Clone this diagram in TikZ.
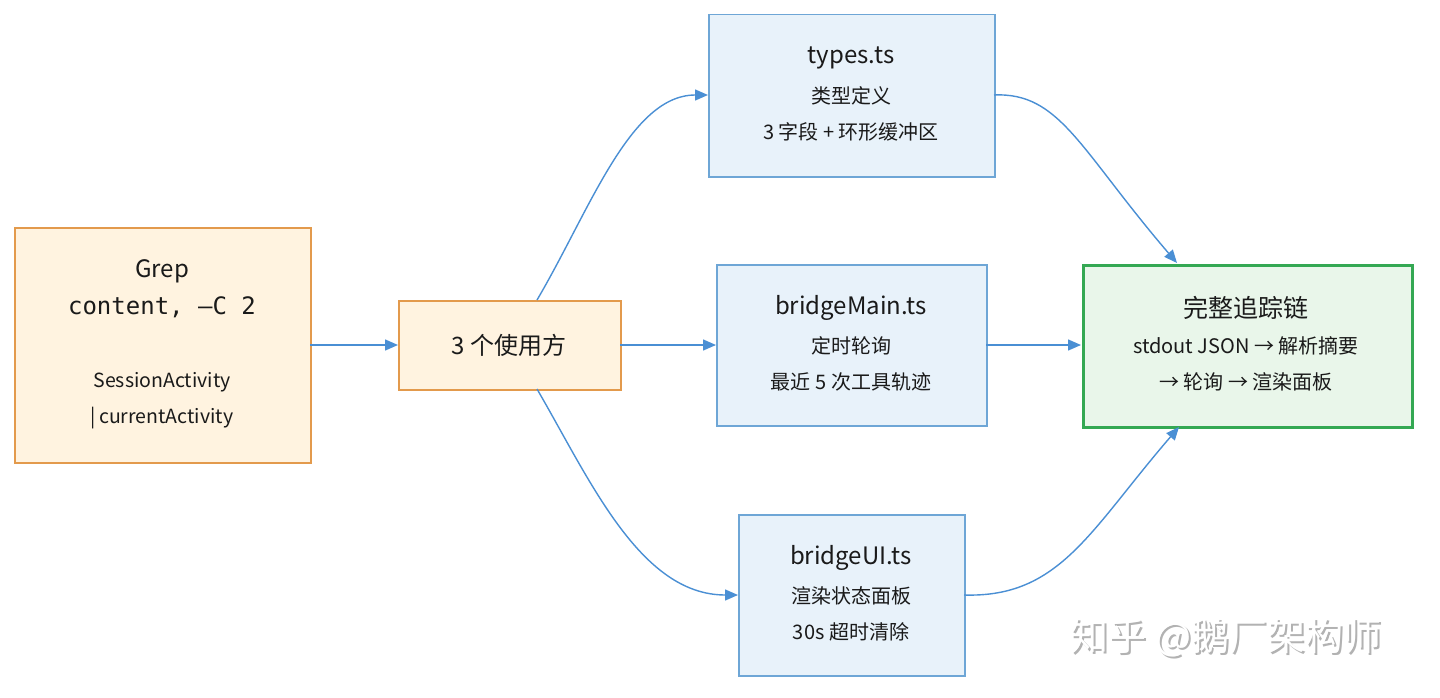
\documentclass[tikz,border=0pt]{standalone}
\usepackage{fontspec}
\setmainfont{Noto Sans CJK SC}
\newfontfamily\monof{DejaVu Sans Mono}
\usetikzlibrary{arrows.meta}
\definecolor{obg}{HTML}{FFF3E0}
\definecolor{obd}{HTML}{E39A4C}
\definecolor{bbg}{HTML}{E8F2FA}
\definecolor{bbd}{HTML}{6EA6D6}
\definecolor{gbg}{HTML}{E9F6EA}
\definecolor{gbd}{HTML}{34A853}
\definecolor{arr}{HTML}{4A8FD4}
\definecolor{txt}{HTML}{1A1A1A}
\tikzset{
  box/.style={draw, line width=1.5pt, inner sep=0pt, anchor=north west},
  obox/.style={box, fill=obg, draw=obd},
  bbox/.style={box, fill=bbg, draw=bbd},
  gbox/.style={box, fill=gbg, draw=gbd, line width=2.8pt},
  conn/.style={draw=arr, line width=1.4pt, -{Triangle[length=13pt,width=11pt]}},
  ttl/.style={text=txt, font=\fontsize{24}{28}\selectfont, inner sep=0pt},
  sub/.style={text=txt, font=\fontsize{20}{24}\selectfont, inner sep=0pt},
}
\begin{document}
\begin{tikzpicture}[x=1pt,y=-1pt]
\useasboundingbox[fill=white] (0,0) rectangle (1440,698);
% boxes
\node[obox, minimum width=296pt, minimum height=235pt] (grep) at (14,227) {};
\node[obox, minimum width=222pt, minimum height=89pt] (use) at (398,300) {};
\node[bbox, minimum width=286pt, minimum height=162pt] (types) at (708,14) {};
\node[bbox, minimum width=270pt, minimum height=161pt] (main) at (716,264) {};
\node[bbox, minimum width=226pt, minimum height=161pt] (ui) at (738,514) {};
\node[gbox, minimum width=329pt, minimum height=162pt] (chain) at (1082,264) {};
% texts
\node[ttl] (t1) at (162,271) {Grep};
\node[text=txt, inner sep=0pt, font=\monof\fontsize{24}{28}\selectfont] (t2) at (162,307) {content, –C 2};
\node[sub, font=\fontsize{19.5}{24}\selectfont] (t3) at (162,382) {SessionActivity};
\node[sub, font=\fontsize{19.5}{24}\selectfont] (t4) at (162,418) {|\,currentActivity};
\node[ttl] (u1) at (509,345) {3 个使用方};
\node[ttl] (a1) at (851,58) {types.ts};
\node[sub] (a2) at (851,96) {类型定义};
\node[sub] (a3) at (851,132) {3 字段 + 环形缓冲区};
\node[ttl] (b1) at (851,308) {bridgeMain.ts};
\node[sub] (b2) at (851,346) {定时轮询};
\node[sub] (b3) at (851,382) {最近 5 次工具轨迹};
\node[ttl] (c1) at (851,558) {bridgeUI.ts};
\node[sub] (c2) at (851,596) {渲染状态面板};
\node[sub] (c3) at (851,632) {30s 超时清除};
\node[ttl, font=\fontsize{25}{28}\selectfont] (g1) at (1246,308) {完整追踪链};
\node[sub] (g2) at (1246,346) {stdout JSON → 解析摘要};
\node[sub] (g3) at (1246,382) {→ 轮询 → 渲染面板};
% connectors
\coordinate (grepR) at (310,345);
\coordinate (useL) at (398,345);
\coordinate (useT) at (537,300);
\coordinate (useB) at (537,389);
\coordinate (useR) at (620,345);
\coordinate (typesL) at (708,95);
\coordinate (typesR) at (994,95);
\coordinate (mainL) at (716,345);
\coordinate (mainR) at (986,345);
\coordinate (uiL) at (738,595);
\coordinate (uiR) at (964,595);
\coordinate (chT) at (1177,263);
\coordinate (chL) at (1081,345);
\coordinate (chB) at (1179,427);
\draw[conn] (grepR) -- (useL);
\draw[conn] (useR) -- (mainL);
\draw[conn] (useT) .. controls (590,210) and (630,95) .. (typesL);
\draw[conn] (useB) .. controls (590,480) and (640,595) .. (uiL);
\draw[conn] (typesR) .. controls (1060,92) and (1080,150) .. (chT);
\draw[conn] (mainR) -- (chL);
\draw[conn] (uiR) .. controls (1060,598) and (1090,530) .. (chB);
% watermark
\node[text=black!30, font=\fontsize{38}{40}\selectfont, inner sep=0pt] (wms) at (1228,640) {知乎 @鹅厂架构师};
\node[text=white, font=\fontsize{38}{40}\selectfont, inner sep=0pt] (wm) at (1226,638) {知乎 @鹅厂架构师};
\end{tikzpicture}
\end{document}
